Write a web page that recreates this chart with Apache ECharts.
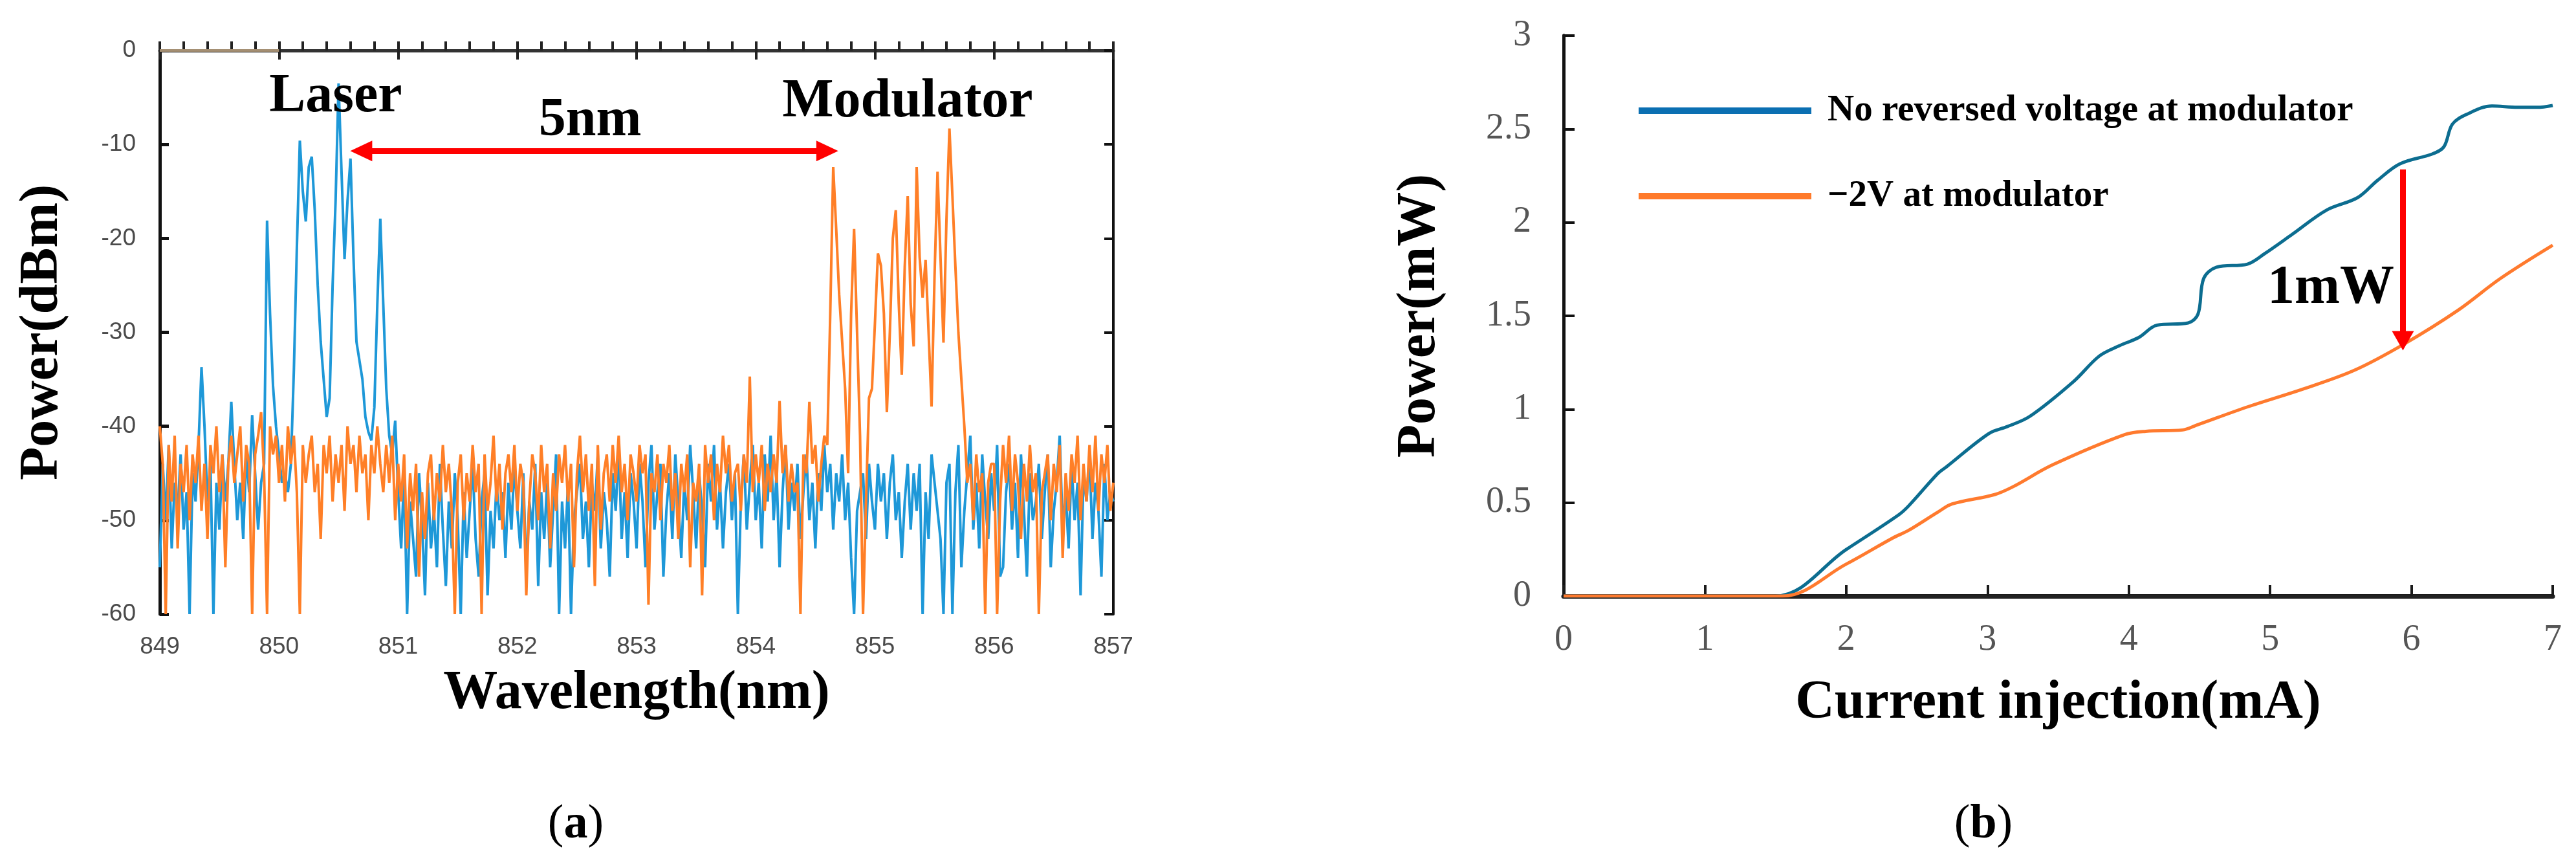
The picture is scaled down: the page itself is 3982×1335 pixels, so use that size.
<!DOCTYPE html>
<html>
<head>
<meta charset="utf-8">
<title>Laser / modulator spectrum and L-I curve</title>
<script src="https://cdn.jsdelivr.net/npm/echarts@6/dist/echarts.min.js"></script>
<style>
    html, body { margin: 0; padding: 0; background: #fff; }
    #container { width: 3982px; height: 1335px; }
</style>
</head>
<body>
<div id="container"></div>
<script>
// (a) optical spectrum: OSA samples every 0.025 nm from 849 nm, power in dBm
var oscStart = 849;
var oscStep = 0.025;

var laserDbm = [
    // 849
    -55, -44, -50, -42, -53, -46, -49, -43, -51, -47, -60, -45, -48, -42, -33.7, -40, -48, -44, -60, -46,
    -51, -43, -48, -44, -37.4, -44, -50, -46, -52, -43, -47, -38.8, -45, -51, -46, -44, -18.1, -28, -35.7, -40,
    // 850
    -43, -46, -45, -47, -44, -34, -21, -9.6, -15, -18.2, -12.4, -11.3, -17, -25, -31, -35, -39, -37, -25, -16,
    -3.5, -13, -22.2, -16, -11.5, -22, -31, -33, -35, -39, -40.6, -41.5, -38, -27, -17.9, -27, -36, -41, -43, -39.4,
    // 851
    -47, -53, -45, -60, -48, -52, -56, -45, -50, -58, -46, -53, -49, -55, -44, -51, -57, -48, -53, -45,
    -50, -60, -47, -54, -49, -44, -52, -56, -48, -45, -58, -49, -53, -46, -50, -47, -54, -46, -51, -44,
    // 852
    -49, -53, -45, -56, -48, -51, -44, -57, -47, -52, -46, -55, -49, -43, -60, -48, -53, -46, -60, -50,
    -47, -44, -52, -48, -55, -46, -49, -43, -53, -47, -50, -56, -45, -49, -42, -52, -47, -54, -45, -48,
    // 853
    -53, -44, -48, -55, -46, -42, -51, -47, -44, -56, -49, -45, -52, -43, -48, -54, -46, -50, -42, -47,
    -53, -45, -49, -55, -44, -48, -42, -51, -46, -53, -47, -44, -50, -45, -60, -48, -43, -51, -46, -42,
    // 854
    -50, -46, -53, -43, -48, -41, -50, -45, -55, -47, -42, -51, -46, -49, -44, -52, -47, -43, -50, -46,
    -53, -45, -49, -42, -47, -44, -51, -45, -48, -43, -50, -46, -54, -60, -49, -47, -45, -52, -44, -48,
    // 855
    -51, -44, -48, -45, -52, -46, -43, -50, -47, -54, -48, -44, -51, -45, -49, -44, -60, -47, -52, -43,
    -46, -49, -52, -60, -46, -44, -60, -47, -42, -55, -49, -45, -41, -51, -46, -53, -43, -48, -52, -45,
    // 856
    -49, -42, -56, -55, -47, -44, -51, -46, -54, -43, -49, -56, -45, -50, -48, -44, -52, -47, -43, -55,
    -49, -46, -41, -51, -47, -53, -44, -50, -46, -58, -45, -48, -43, -52, -46, -49, -56, -44, -50, -47,
    // 857
    -48
];

var modulatorDbm = [
    // 849
    -40, -44, -60, -42, -48, -41, -53, -44, -47, -42, -50, -43, -46, -41, -49, -44, -52, -42, -45, -40,
    -47, -43, -55, -44, -41, -46, -43, -40, -48, -42, -44, -60, -43, -41, -38.5, -45, -60, -40, -43, -41,
    // 850
    -46, -42, -48, -40, -44, -41, -47, -60, -42, -46, -43, -41, -47, -44, -52, -42, -45, -41, -48, -43,
    -46, -42, -49, -40, -44, -42, -47, -41, -45, -43, -50, -42, -45, -40, -44, -47, -42, -46, -41, -50,
    // 851
    -44, -48, -43, -53, -45, -49, -44, -56, -47, -52, -45, -43, -50, -45, -48, -42, -47, -44, -49, -60,
    -46, -43, -50, -45, -48, -42, -47, -44, -60, -43, -49, -46, -41, -48, -44, -51, -45, -43, -47, -42,
    // 852
    -49, -44, -46, -58, -48, -43, -45, -50, -42, -47, -44, -53, -45, -49, -43, -46, -42, -48, -44, -55,
    -45, -41, -47, -43, -49, -44, -57, -42, -51, -45, -43, -48, -42, -46, -41, -47, -44, -50, -43, -45,
    // 853
    -48, -42, -45, -43, -59, -45, -47, -43, -50, -44, -46, -42, -49, -45, -52, -44, -47, -43, -55, -46,
    -48, -44, -58, -42, -46, -43, -50, -44, -47, -41, -45, -42, -48, -45, -44, -49, -43, -46, -34.7, -47,
    // 854
    -43, -46, -42, -49, -44, -47, -43, -46, -37.3, -45, -42, -48, -44, -47, -46, -60, -43, -45, -37.4, -44,
    -42, -48, -44, -41, -42, -28, -12.4, -19, -26, -31, -36, -45, -28, -19, -30, -41, -60, -48, -37, -36,
    // 855
    -29, -21.6, -22.9, -28, -38.5, -30, -20, -17, -27, -34.5, -23, -15.5, -27, -31.5, -12.4, -22, -26.3, -22.3, -30, -37.9,
    -24, -12.9, -22, -31.1, -18, -8.3, -15.5, -23, -30, -35, -40, -46, -44, -50, -43, -47, -45, -60, -46, -44,
    // 856
    -44, -60, -48, -42, -46, -41, -49, -43, -46, -52, -44, -48, -42, -47, -45, -60, -47, -45, -43, -50,
    -44, -47, -42, -54, -45, -49, -43, -46, -41, -50, -44, -48, -42, -47, -41, -49, -43, -46, -42, -49,
    // 857
    -46
];

// odd trace lying on the 0 dBm frame line at the far left
var frameTrace = [[849, 0], [850, 0]];

// (b) output power vs injection current, [mA, mW]
var powerNoBias = [
    [0, 0], [1.5, 0], [2.0, 0.249], [2.37, 0.434], [2.44, 0.481], [2.65, 0.657], [2.71, 0.692], [3.01, 0.870],
    [3.14, 0.907], [3.30, 0.962], [3.61, 1.149], [3.79, 1.284], [3.93, 1.339], [4.07, 1.384], [4.20, 1.450], [4.42, 1.462],
    [4.49, 1.510], [4.53, 1.700], [4.62, 1.760], [4.84, 1.777], [4.96, 1.832], [5.16, 1.938], [5.40, 2.066], [5.62, 2.133],
    [5.76, 2.225], [5.92, 2.314], [6.15, 2.367], [6.23, 2.405], [6.29, 2.526], [6.39, 2.578], [6.57, 2.623], [6.75, 2.616],
    [6.89, 2.616], [7.0, 2.626]
];
var powerMinus2V = [
    [0, 0], [1.55, 0], [2.0, 0.171], [2.33, 0.311], [2.44, 0.351], [2.65, 0.450], [2.75, 0.493], [3.05, 0.543],
    [3.18, 0.585], [3.46, 0.702], [3.97, 0.864], [4.12, 0.882], [4.38, 0.889], [4.48, 0.915], [4.85, 1.015], [5.24, 1.110],
    [5.60, 1.210], [5.95, 1.350], [6.33, 1.530], [6.63, 1.700], [7.0, 1.878]
];

var seriesNames = ['No reversed voltage at modulator', '\u22122V at modulator'];
var wavelengthRange = [849, 857];
var dbmRange = [-60, 0];
var currentRange = [0, 7];
var powerRange = [0, 3];

initChart(echarts);


function toSpectrum(values) {
    var out = [];
    for (var i = 0; i < values.length; i++) {
        out.push([+(oscStart + i * oscStep).toFixed(3), values[i]]);
    }
    return out;
}


function initChart(echarts) {
    var serif = '"Liberation Serif", "Times New Roman", serif';
    var sans = '"Liberation Sans", Arial, sans-serif';
    var titleStyle = {fontFamily: serif, fontWeight: 'bold', fontSize: 84, color: '#000'};
    var noteLabel = {show: true, position: 'inside', fontFamily: serif, fontWeight: 'bold', fontSize: 84, color: '#000', formatter: '{b}'};

    var myChart = echarts.init(document.getElementById('container'));
    var option = {
        animation: false,
        backgroundColor: '#fff',
        grid: [
            {left: 247, top: 78, width: 1474, height: 871, outerBoundsMode: 'none'},
            {left: 2417, top: 55, width: 1529, height: 866, outerBoundsMode: 'none'}
        ],
        legend: {
            data: [
                {name: seriesNames[0], itemStyle: {color: '#0b6fb2'}},
                {name: seriesNames[1], itemStyle: {color: '#ff7a2a'}}
            ],
            orient: 'vertical',
            left: 2528,
            top: 136,
            itemWidth: 267,
            itemHeight: 10,
            itemGap: 72,
            icon: 'rect',
            selectedMode: false,
            textStyle: {fontFamily: serif, fontWeight: 'bold', fontSize: 57, color: '#000', lineHeight: 60, padding: [0, 0, 0, 20]}
        },
        xAxis: [
            {
                gridIndex: 0, type: 'value', min: wavelengthRange[0], max: wavelengthRange[1], interval: 1,
                name: 'Wavelength(nm)', nameLocation: 'middle', nameGap: 81, nameTextStyle: titleStyle,
                axisLine: {lineStyle: {color: '#222', width: 5}},
                axisTick: {inside: true, length: 14, lineStyle: {color: '#222', width: 4}},
                minorTick: {show: true, splitNumber: 5, length: 14, lineStyle: {color: '#222', width: 4}},
                axisLabel: {fontFamily: sans, fontSize: 37, color: '#4a4a4a', margin: 32},
                splitLine: {show: false}
            },
            {
                gridIndex: 0, type: 'value', position: 'top', min: wavelengthRange[0], max: wavelengthRange[1], interval: 1,
                axisLine: {show: true, lineStyle: {color: '#333', width: 4}},
                axisTick: {show: true, inside: true, length: 14, lineStyle: {color: '#222', width: 4}},
                axisLabel: {show: false}, splitLine: {show: false}
            },
            {
                gridIndex: 1, type: 'value', min: currentRange[0], max: currentRange[1], interval: 1,
                name: 'Current injection(mA)', nameLocation: 'middle', nameGap: 124, nameTextStyle: titleStyle,
                axisLine: {lineStyle: {color: '#1a1a1a', width: 7}},
                axisTick: {inside: true, length: 17, lineStyle: {color: '#1a1a1a', width: 4}},
                axisLabel: {fontFamily: serif, fontSize: 56, color: '#555', margin: 40},
                splitLine: {show: false}
            },
            {
                gridIndex: 1, type: 'value', position: 'top', min: currentRange[0], max: currentRange[1],
                axisLine: {show: true, lineStyle: {color: '#222', width: 5}},
                axisTick: {show: false}, axisLabel: {show: false}, splitLine: {show: false}
            }
        ],
        yAxis: [
            {
                gridIndex: 0, type: 'value', min: dbmRange[0], max: dbmRange[1], interval: 10,
                name: 'Power(dBm)', nameLocation: 'middle', nameGap: 139, nameTextStyle: titleStyle,
                axisLine: {show: true, lineStyle: {color: '#111', width: 5}},
                axisTick: {show: true, inside: true, length: 14, lineStyle: {color: '#111', width: 5}},
                axisLabel: {fontFamily: sans, fontSize: 37, color: '#4a4a4a', margin: 37},
                splitLine: {show: false}
            },
            {
                gridIndex: 0, type: 'value', position: 'right', min: dbmRange[0], max: dbmRange[1], interval: 10,
                axisLine: {show: true, lineStyle: {color: '#111', width: 4}},
                axisTick: {show: true, inside: true, length: 14, lineStyle: {color: '#111', width: 4}},
                axisLabel: {show: false}, splitLine: {show: false}
            },
            {
                gridIndex: 1, type: 'value', min: powerRange[0], max: powerRange[1], interval: 0.5,
                name: 'Power(mW)', nameLocation: 'middle', nameGap: 180, nameTextStyle: titleStyle,
                axisLine: {show: true, lineStyle: {color: '#111', width: 5}},
                axisTick: {show: true, inside: true, length: 17, lineStyle: {color: '#111', width: 4}},
                axisLabel: {fontFamily: serif, fontSize: 56, color: '#555', margin: 50},
                splitLine: {show: false}
            },
            {
                gridIndex: 1, type: 'value', position: 'right', min: powerRange[0], max: powerRange[1],
                axisLine: {show: true, lineStyle: {color: '#111', width: 5}},
                axisTick: {show: false}, axisLabel: {show: false}, splitLine: {show: false}
            }
        ],
        series: [
            {
                name: 'frame', type: 'line', xAxisIndex: 0, yAxisIndex: 0,
                data: frameTrace, symbol: 'none', clip: false,
                lineStyle: {color: '#a48e72', width: 4}
            },
            {
                name: 'Laser', type: 'line', xAxisIndex: 0, yAxisIndex: 0,
                data: toSpectrum(laserDbm), symbol: 'none',
                lineStyle: {color: '#1e98d8', width: 4}, itemStyle: {color: '#1e98d8'},
                markPoint: {
                    symbol: 'circle', symbolSize: 1, itemStyle: {color: 'rgba(0,0,0,0)'},
                    label: noteLabel,
                    data: [
                        {name: 'Laser', coord: [850.476, -4.95]},
                        {name: '5nm', coord: [852.61, -7.5]},
                        {name: 'Modulator', coord: [855.274, -5.5]}
                    ]
                }
            },
            {
                name: 'Modulator', type: 'line', xAxisIndex: 0, yAxisIndex: 0,
                data: toSpectrum(modulatorDbm), symbol: 'none',
                lineStyle: {color: '#ff7f27', width: 4}, itemStyle: {color: '#ff7f27'},
                markLine: {
                    silent: true, symbol: ['triangle', 'triangle'], symbolSize: [32, 34],
                    lineStyle: {color: '#ff0000', width: 9, type: 'solid'},
                    itemStyle: {color: '#ff0000'},
                    label: {show: false},
                    data: [[{coord: [850.69, -10.7]}, {coord: [854.60, -10.7]}]]
                }
            },
            {
                name: seriesNames[0], type: 'line', xAxisIndex: 2, yAxisIndex: 2,
                data: powerNoBias, symbol: 'none', smooth: 0.35,
                lineStyle: {color: '#0c6d90', width: 5}, itemStyle: {color: '#0c6d90'}
            },
            {
                name: seriesNames[1], type: 'line', xAxisIndex: 2, yAxisIndex: 2,
                data: powerMinus2V, symbol: 'none', smooth: 0.35,
                lineStyle: {color: '#ff7a2e', width: 5}, itemStyle: {color: '#ff7a2e'},
                markLine: {
                    silent: true, symbol: ['none', 'triangle'], symbolSize: [34, 30],
                    lineStyle: {color: '#ff0000', width: 9, type: 'solid'},
                    itemStyle: {color: '#ff0000'},
                    label: {show: false},
                    data: [[{coord: [5.94, 2.284]}, {coord: [5.94, 1.367]}]]
                },
                markPoint: {
                    symbol: 'circle', symbolSize: 1, itemStyle: {color: 'rgba(0,0,0,0)'},
                    label: noteLabel,
                    data: [{name: '1mW', coord: [5.43, 1.644]}]
                }
            }
        ],
        graphic: [
            {
                type: 'text', x: 890, y: 1275,
                style: {text: '({b|a})', fontFamily: serif, fontSize: 74, fill: '#000', align: 'center', verticalAlign: 'middle',
                    rich: {b: {fontFamily: serif, fontSize: 74, fontWeight: 'bold', fill: '#000'}}}
            },
            {
                type: 'text', x: 3066, y: 1275,
                style: {text: '({b|b})', fontFamily: serif, fontSize: 74, fill: '#000', align: 'center', verticalAlign: 'middle',
                    rich: {b: {fontFamily: serif, fontSize: 74, fontWeight: 'bold', fill: '#000'}}}
            }
        ]
    };

    // 为echarts对象加载数据
    myChart.setOption(option);
}
</script>
</body>
</html>
